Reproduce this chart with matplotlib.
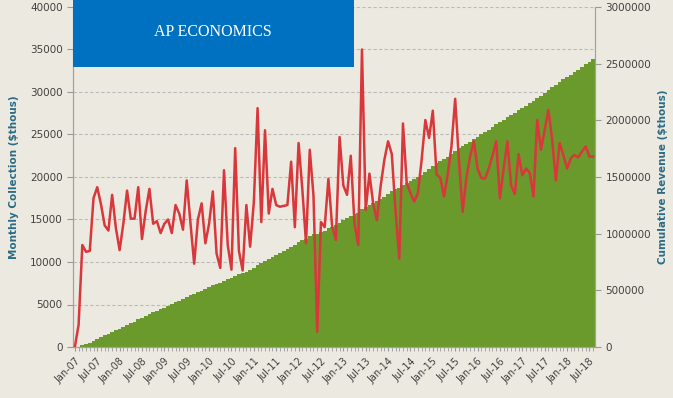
import numpy as np
import matplotlib
matplotlib.use('Agg')
import matplotlib.pyplot as plt
from matplotlib.patches import Rectangle

# monthly collection ($thous), Jan-07 .. Aug-18
monthly = [
    0, 2600, 12000, 11200, 11300, 17500, 18800, 16800, 14300, 13700, 17900, 14000,      # 2007
    11400, 14500, 18400, 15100, 15100, 18800, 12700, 16000, 18600, 14500, 14800, 13400,  # 2008
    14500, 15000, 13400, 16700, 15700, 13800, 19600, 14600, 9800, 15000, 16900, 12200,   # 2009
    14500, 18300, 11000, 9300, 20800, 12000, 9100, 23400, 11300, 9000, 16700, 11800,     # 2010
    17000, 28100, 14700, 25500, 15700, 18600, 16700, 16500, 16600, 16700, 21800, 14100,  # 2011
    24000, 18600, 12200, 23200, 17800, 1800, 14700, 14100, 19800, 14200, 12600, 24700,   # 2012
    19000, 17900, 22500, 14500, 12000, 35000, 16100, 20400, 16900, 14900, 18900, 22000,  # 2013
    24200, 22700, 16000, 10400, 26300, 19300, 18100, 17100, 18100, 22000, 26700, 24600,  # 2014
    27800, 20300, 19900, 17700, 20300, 23600, 29200, 22000, 15900, 19900, 22400, 24200,  # 2015
    21000, 19900, 19800, 21000, 22500, 24200, 17500, 21000, 24200, 19000, 18000, 22700,  # 2016
    20200, 21000, 20500, 17700, 26700, 23200, 25500, 27900, 24400, 19600, 24000, 22600,  # 2017
    21000, 22200, 22600, 22300, 23000, 23600, 22400, 22400,                              # 2018
]
monthly = monthly[:140]
months = np.arange(len(monthly))
# cumulative revenue is the running total of the monthly collections
cumulative = np.cumsum(monthly)

tick_pos = list(range(0, 140, 6))
tick_labels = []
for i, p in enumerate(tick_pos):
    yr = 7 + i // 2
    tick_labels.append(('Jan' if i % 2 == 0 else 'Jul') + '-%02d' % yr)

bg = '#ECEAE0'
green = '#6B9A2C'
red = '#D8373C'
teal = '#2B6C86'
txt = '#404040'

fig = plt.figure(figsize=(6.73, 3.98), dpi=100, facecolor=bg)
ax1 = fig.add_axes([73/673, 1-347/398, (595-73)/673, 340/398])
ax2 = ax1.twinx()

# bars on the right axis, behind the line
ax2.bar(months, cumulative, width=1.0, color=green, linewidth=0, zorder=1)
ax2.set_ylim(0, 3000000)
ax2.set_yticks(range(0, 3000001, 500000))
ax2.set_yticklabels([str(v) for v in range(0, 3000001, 500000)], fontsize=7.5, color=txt)
ax2.set_ylabel('Cumulative Revenue ($thous)', color=teal, fontsize=7.5, fontweight='bold', labelpad=5)

ax1.set_zorder(ax2.get_zorder() + 1)
ax1.patch.set_visible(False)
ax2.set_facecolor('white')
ax1.plot(months, monthly, color=red, linewidth=1.8, zorder=3)
ax1.set_ylim(0, 40000)
ax1.set_yticks(range(0, 40001, 5000))
ax1.set_yticklabels([str(v) for v in range(0, 40001, 5000)], fontsize=7.5, color=txt)
ax1.set_ylabel('Monthly Collection ($thous)', color=teal, fontsize=7.5, fontweight='bold', labelpad=8)
ax1.set_xlim(-0.5, len(monthly) - 0.5)
ax1.set_xticks(tick_pos)
ax1.set_xticklabels(tick_labels, rotation=45, ha='right', rotation_mode='anchor', fontsize=7, color=txt)
ax1.set_xticks(months, minor=True)
ax1.tick_params(axis='x', which='both', length=3, color='#999999')
ax1.tick_params(axis='y', length=4, color='#999999')
ax2.tick_params(axis='y', length=4, color='#999999')

# dashed grid drawn on the bar axes so it sits between background and bars
for v in range(5000, 40001, 5000):
    ax2.axhline(v * 75, color='#BBBBBB', linestyle=(0, (3, 2)), linewidth=0.8, zorder=0.5)

for a in (ax1, ax2):
    a.spines['top'].set_visible(False)
    for s in ('left', 'right', 'bottom'):
        a.spines[s].set_color('#A0A0A0')

# title box
fig.add_artist(Rectangle((73/673, 1-67/398), (354-73)/673, 67/398,
                         transform=fig.transFigure, facecolor='#0070C0', edgecolor='none', zorder=10))
fig.text(213/673, 1-32/398, 'AP ECONOMICS', color='white', fontsize=11.5,
         family='Liberation Serif', ha='center', va='center', zorder=11)

fig.savefig('out.png', dpi=100, facecolor=bg)
